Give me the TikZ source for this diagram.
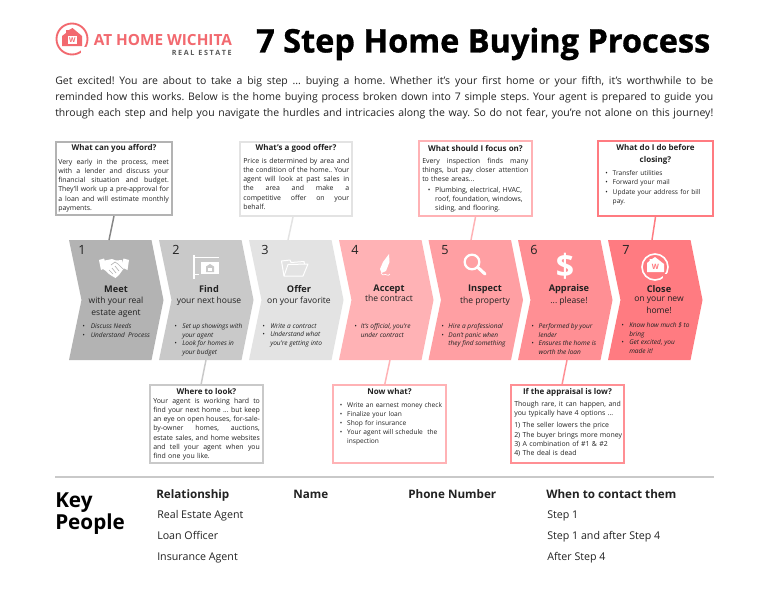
\documentclass[tikz,border=0pt]{standalone}
\usepackage{fontspec}
\setmainfont{Open Sans}
\newfontfamily\titlefont[FakeBold=1]{Open Sans Bold}
\definecolor{logored}{HTML}{F2696F}
\definecolor{cha}{HTML}{B3B3B3}
\definecolor{chb}{HTML}{C9C9C9}
\definecolor{chc}{HTML}{E3E3E3}
\definecolor{chd}{HTML}{FFB2B5}
\definecolor{che}{HTML}{FF9FA3}
\definecolor{chf}{HTML}{FF8F94}
\definecolor{chg}{HTML}{FF7B81}
\definecolor{ink}{HTML}{222222}
\frenchspacing
\newcommand\jlw[2]{\leavevmode\hbox to #1{\spaceskip=0.26em plus 1fil minus 0.1em\relax #2}\\}
\newcommand\jl[1]{\jlw{\hsize}{#1}}
\newcommand\bl[1]{\hspace*{4.2pt}\makebox[5.5pt][l]{\textbullet}#1\\}
\newcommand\cl[1]{\hspace*{9.7pt}#1\\}
\newcommand\ibl[2]{\makebox[#1][l]{\textbullet}#2\\}
\newcommand\icl[2]{\hspace*{#1}#2\\}
\newcommand\chevron[2]{%
  \fill[#2] (#1,240) -- (#1+82.5,240) -- (#1+94.5,300) -- (#1+82.5,360) -- (#1,360) -- (#1+12.5,300) -- cycle;}
\tikzset{
  qbox/.style={draw=#1,line width=1.5pt,fill=white,rectangle,inner sep=0pt},
  qtitle/.style={font=\fontsize{6}{9}\selectfont\bfseries,text=ink,inner sep=0pt},
  qbody/.style={font=\fontsize{5.2}{6.85}\selectfont,text=ink,inner sep=0pt,anchor=north west,align=left},
  qlist/.style={qbody,font=\fontsize{4.95}{6.85}\selectfont},
  link/.style={draw=#1,line width=1.1pt},
  num/.style={font=\fontsize{9.5}{11}\selectfont,text=ink,inner sep=0pt},
  sthead/.style={font=\fontsize{6.9}{9}\selectfont\bfseries,text=ink,inner sep=0pt},
  stsub/.style={font=\fontsize{6.4}{8.3}\selectfont,text=ink,inner sep=0pt,align=center,anchor=north},
  stlist/.style={font=\fontsize{4.9}{6.6}\selectfont\itshape,text=ink,inner sep=0pt,anchor=north west,align=left},
  thead/.style={font=\fontsize{8.75}{10}\selectfont\bfseries,text=ink,inner sep=0pt,anchor=west,text height=6.5pt,text depth=1.7pt},
  tcell/.style={font=\fontsize{8}{10}\selectfont,text=ink,inner sep=0pt,anchor=west,text height=6pt,text depth=1.5pt},
}
\begin{document}
\begin{tikzpicture}[x=0.75pt,y=-0.75pt]
\useasboundingbox (0,0) rectangle (768,594);
\fill[white] (0,0) rectangle (768,594);
% logo
\draw[logored,line width=1.4pt] (72,39) circle[radius=15.5];
\fill[white] (81,47) rectangle (90,53);
\fill[logored] (62,46) -- (62,36) -- (66,33) -- (66,30) -- (69,30) -- (72.5,28) -- (82,36) -- (82,46) -- cycle;
\fill[white] (67.5,36) rectangle (77,44);
\node[inner sep=0pt,text=logored,font=\fontsize{5}{6}\selectfont\bfseries] (logow) at (72.3,40) {W};
\node[inner sep=0pt,anchor=west,text=logored,font=\fontsize{11.5}{12}\selectfont\bfseries] (logoa) at (93.5,40) {AT HOME WICHITA};
\node[inner sep=0pt,anchor=east,text=black!65,font=\fontsize{5.4}{6}\selectfont\bfseries] (logob) at (232,52.5) {R\hspace{1.2pt}E\hspace{1.2pt}A\hspace{1.2pt}L\hspace{3pt}E\hspace{1.2pt}S\hspace{1.2pt}T\hspace{1.2pt}A\hspace{1.2pt}T\hspace{1.2pt}E};
% title
\node[inner sep=0pt,anchor=west,text=black,font=\fontsize{24.35}{26}\selectfont\titlefont] (title) at (256,44) {7 Step Home Buying Process};
% intro
\node[inner sep=0pt,anchor=north west,text width=493.5pt,align=left,text=ink,font=\fontsize{7.85}{12.05}\selectfont] (intro) at (55,76) {%
\jl{Get excited! You are about to take a big step ... buying a home. Whether it's your first home or your fifth, it's worthwhile to be}
\jl{reminded how this works. Below is the home buying process broken down into 7 simple steps. Your agent is prepared to guide you}
\jl{through each step and help you navigate the hurdles and intricacies along the way. So do not fear, you're not alone on this journey!}};
% chevrons
\chevron{69}{cha}
\chevron{159}{chb}
\chevron{249}{chc}
\chevron{339}{chd}
\chevron{428.5}{che}
\chevron{518}{chf}
\chevron{608}{chg}
\coordinate (satop) at (109,240);
\coordinate (sctop) at (288,240);
\coordinate (setop) at (471,240);
\coordinate (sgtop) at (652,240);
\coordinate (sbbot) at (206,360);
\coordinate (sdbot) at (390,360);
\coordinate (sfbot) at (567,360);
% numbers
\node[num] (n1) at (82,250) {1};
\node[num] (n2) at (176,250) {2};
\node[num] (n3) at (265,250) {3};
\node[num] (n4) at (355,250) {4};
\node[num] (n5) at (445,250) {5};
\node[num] (n6) at (534,250) {6};
\node[num] (n7) at (626,250) {7};
% icon: handshake
\begin{scope}[shift={(114,268)}]
\fill[white] (-15,-8) -- (-10,-9.5) -- (-7,-1) -- (-13,2) -- cycle;
\fill[white] (15,-8) -- (9.5,-9.5) -- (7,-1) -- (13.5,2) -- cycle;
\fill[white] (-9,-7.5) -- (-2,-9) -- (2,-7.5) -- (8,-8) -- (10,0) -- (5,7) -- (1.5,10) -- (-2,8) -- (-5,6) -- (-8,3) -- (-11,1) -- cycle;
\draw[cha,line width=.5pt] (-3,-3) -- (1,-6) -- (4,-4) -- (9,1);
\draw[cha,line width=.5pt] (-5,2) -- (-1,6) (-2,0) -- (2,5) (1,-2) -- (5,3);
\end{scope}
% icon: sign
\begin{scope}[shift={(193,255)}]
\fill[white] (0,0) rectangle (1.6,24);
\fill[white] (0,1.5) -- (26,1.5) -- (26,3) -- (0,3) -- cycle;
\fill[white] (8,7) rectangle (26,19);
\fill[white] (1,19) rectangle (6,20);
\fill[chb] (13,14) -- (13,11.5) -- (17,9) -- (21,11.5) -- (21,17) -- (13,17) -- cycle;
\fill[white] (15,13) rectangle (19,16);
\end{scope}
% icon: folder
\begin{scope}[shift={(281,259)}]
\draw[white,line width=.75pt,line join=round] (3,17) -- (0.5,2) -- (9,1) -- (10,3.5) -- (23,2.5) -- (23.5,5);
\draw[white,line width=.75pt,line join=round] (3,17) -- (7,5.5) -- (27,5) -- (22,17) -- cycle;
\end{scope}
% icon: pen
\begin{scope}[shift={(385,265)}]
\fill[white] (4,-11) -- (4.5,-3) -- (1,6) -- (-3.5,8) -- (-5,4) -- (-2,-3) -- cycle;
\draw[white,line width=.5pt] (-4,8) .. controls (-2,12) and (0,8) .. (2,10) .. controls (3,11) and (4,10) .. (5,9);
\end{scope}
% icon: magnifier
\node[draw=white,line width=1.7pt,circle,minimum size=11pt,inner sep=0pt] (lens) at (472,262) {};
\coordinate (handle) at (485,274);
\draw[white,line width=2.3pt,line cap=round] (lens) -- (handle);
% icon: dollar
\node[inner sep=0pt,text=white,font=\fontsize{24}{26}\selectfont\bfseries] (dollar) at (565,266) {\$};
% icon: close logo
\draw[white,line width=1.2pt] (655,267) circle[radius=13];
\fill[chg] (662.5,274) rectangle (670,280);
\fill[white] (647,272) -- (647,263) -- (649.5,261) -- (649.5,259) -- (652,259) -- (655,257) -- (664,264) -- (664,272) -- cycle;
\node[inner sep=0pt,text=chg,font=\fontsize{5.5}{7}\selectfont\bfseries] (closew) at (655.5,267) {W};
% step headings
\node[sthead] (h1) at (116,289.5) {Meet};
\node[stsub] (u1) at (116,296.5) {with your real\\[0.6pt]estate agent};
\node[sthead] (h2) at (209,289.5) {Find};
\node[stsub] (u2) at (209,296.5) {your next house};
\node[sthead] (h3) at (299,289.5) {Offer};
\node[stsub] (u3) at (299,296.5) {on your favorite};
\node[sthead] (h4) at (389,289.5) {Accept};
\node[stsub] (u4) at (389,294.5) {the contract};
\node[sthead] (h5) at (485,289.5) {Inspect};
\node[stsub] (u5) at (485,296.5) {the property};
\node[sthead] (h6) at (569,289.5) {Appraise};
\node[stsub] (u6) at (569,296.5) {... please!};
\node[sthead] (h7) at (659,289.5) {Close};
\node[stsub] (u7) at (659,296.5) {on your new\\[0.6pt]home!};
% step lists
\node[stlist] (l1) at (82,323) {\ibl{6.4pt}{Discuss Needs}\ibl{6.4pt}{Understand\ \ Process}};
\node[stlist] (l2) at (174,323) {\ibl{6pt}{Set up showings with}\icl{6pt}{your agent}\ibl{6pt}{Look for homes in}\icl{6pt}{your budget}};
\node[stlist] (l3) at (262,323) {\ibl{6pt}{Write a contract}\ibl{6pt}{Understand what}\icl{6pt}{you're getting into}};
\node[stlist] (l4) at (354,323) {\ibl{5pt}{It's official, you're}\icl{5pt}{under contract}};
\node[stlist] (l5) at (441,323) {\ibl{5.4pt}{Hire a professional}\ibl{5.4pt}{Don't panic when}\icl{5.4pt}{they find something}};
\node[stlist] (l6) at (531,323) {\ibl{5.6pt}{Performed by your}\icl{5.6pt}{lender}\ibl{5.6pt}{Ensures the home is}\icl{5.6pt}{worth the loan}};
\node[stlist] (l7) at (621,322) {\ibl{6pt}{Know how much \$ to}\icl{6pt}{bring}\ibl{6pt}{Get excited, you}\icl{6pt}{made it!}};
% boxes
\node[qbox=cha,minimum width=87pt,minimum height=54.75pt] (b1) at (114,178.5) {};
\node[qbox=chc,minimum width=84pt,minimum height=55.5pt] (b3) at (296,179) {};
\node[qbox=chd,minimum width=84.75pt,minimum height=56.25pt] (b5) at (475.5,178.5) {};
\node[qbox=chg,minimum width=86.25pt,minimum height=56.25pt] (b7) at (655.5,178.5) {};
\node[qbox=chb,minimum width=84.75pt,minimum height=58.5pt] (b2) at (206.5,424) {};
\node[qbox=chd,minimum width=84.75pt,minimum height=58.5pt] (b4) at (389.5,424) {};
\node[qbox=chf,minimum width=84.75pt,minimum height=58.5pt] (b6) at (567.5,424) {};
% connectors
\draw[link=cha!75!black] (b1.south) -- (satop);
\draw[link=chc] ([xshift=-2.25pt]b3.south) -- (sctop);
\draw[link=chd] (b5.south) -- (setop);
\draw[link=chg] (b7.south) -- (sgtop);
\draw[link=chb] (sbbot) -- ([xshift=-4pt]b2.north);
\draw[link=chd] (sdbot) -- ([xshift=-3.5pt]b4.north);
\draw[link=chf] (sfbot) -- ([xshift=-4pt]b6.north);
% box texts
\node[qtitle] (t1) at (114,148.5) {What can you afford?};
\node[qbody,text width=83pt] (x1) at (58,159) {%
\jl{Very early in the process, meet}
\jl{with a lender and discuss your}
\jl{financial situation and budget.}
\jl{They'll work up a pre-approval for}
\jl{a loan and will estimate monthly}
payments.};
\node[qtitle] (t3) at (296,148.5) {What's a good offer?};
\node[qbody,text width=79.5pt] (x3) at (243,158) {%
\jl{Price is determined by area and}
\jl{the condition of the home.. Your}
\jl{agent will look at past sales in}
\jl{the area and make a}
\jl{competitive offer on your}
behalf.};
\node[qtitle] (t5) at (475.5,148.5) {What should I focus on?};
\node[qbody,text width=79.5pt] (x5) at (422,158) {%
\jl{Every inspection finds many}
\jl{things, but pay closer attention}
to these areas...\\[1.2pt]
\bl{Plumbing, electrical, HVAC,}
\cl{roof, foundation, windows,}
\cl{siding, and flooring.}};
\node[qtitle,align=center] (t7) at (655.5,154.5) {What do I do before\\closing?};
\node[qlist,text width=84pt] (x7) at (599.5,170.5) {%
\bl{Transfer utilities}
\bl{Forward your mail}
\bl{Update your address for bill}
\cl{pay.}};
\node[qtitle] (t2) at (206.5,392) {Where to look?};
\node[qbody,text width=80pt] (x2) at (153,398) {%
\jl{Your agent is working hard to}
\jl{find your next home ... but keep}
\jl{an eye on open houses, for-sale-}
\jl{by-owner homes, auctions,}
\jl{estate sales, and home websites}
\jl{and tell your agent when you}
find one you like.};
\node[qtitle] (t4) at (389.5,392) {Now what?};
\node[qlist,text width=90pt] (x4) at (334,402) {%
\bl{Write an earnest money check}
\bl{Finalize your loan}
\bl{Shop for insurance}
\bl{Your agent will schedule\ \ the}
\cl{inspection}};
\node[qtitle] (t6) at (567.5,392) {If the appraisal is low?};
\node[qbody,text width=84pt] (x6) at (514,401) {%
\jlw{80pt}{Though rare, it can happen, and}
you typically have 4 options ...\\[1.9pt]
1) The seller lowers the price\\[0.6pt]
2) The buyer brings more money\\
3) A combination of \#1 \& \#2\\
4) The deal is dead};
% divider
\coordinate (dl) at (55,477);
\coordinate (dr) at (714,477);
\draw[chb,line width=1.8pt] (dl) -- (dr);
% key people
\node[inner sep=0pt,anchor=north west,align=left,text=black,font=\fontsize{15.5}{16.2}\selectfont\bfseries] (key) at (55,492.5) {Key\\People};
\node[thead] (r0) at (156,495) {Relationship};
\node[thead] (c2) at (293,495) {Name};
\node[thead] (c3) at (408,495) {Phone Number};
\node[thead] (c4) at (546,495) {When to contact them};
\node[tcell] (r1) at (157,515) {Real Estate Agent};
\node[tcell] (r2) at (157,536) {Loan Officer};
\node[tcell] (r3) at (157,557) {Insurance Agent};
\node[tcell] (w1) at (547,515) {Step 1};
\node[tcell] (w2) at (547,536) {Step 1 and after Step 4};
\node[tcell] (w3) at (547,557) {After Step 4};
\end{tikzpicture}
\end{document}
